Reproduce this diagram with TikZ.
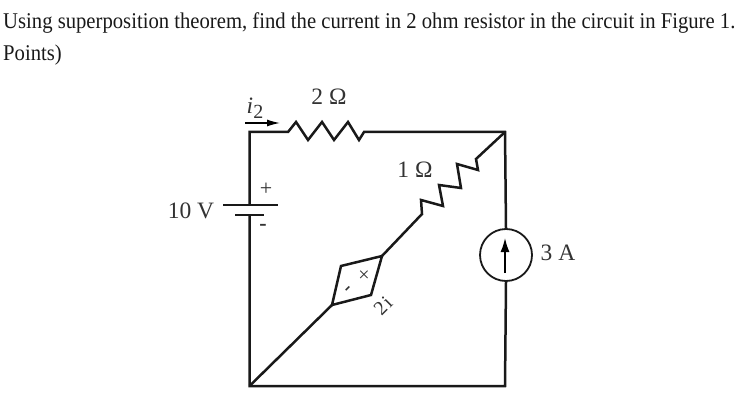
\documentclass[tikz,border=0pt]{standalone}
\usepackage{fontspec}
\usetikzlibrary{arrows.meta}
\setmainfont{Liberation Serif}
\begin{document}
\begin{tikzpicture}[x=1pt,y=-1pt,
  wire/.style={line width=2.5pt,black!90,line join=miter},
  thin wire/.style={line width=1.8pt,black!90},
  lab/.style={inner sep=0pt,text=black!80,font=\fontsize{23.5}{26}\selectfont},
  para/.style={inner sep=0pt,anchor=base west,text=black!90,font=\fontsize{22.5}{26}\selectfont}]
\useasboundingbox (0,0) rectangle (746,406);
\node[para] (t1) at (3,29) {\scalebox{0.919}[1]{Using superposition theorem, find the current in 2 ohm resistor in the circuit in Figure 1.}};
\node[para] (t2) at (3,61) {\scalebox{0.919}[1]{Points)}};
% junctions
\coordinate (tl) at (249.5,132);
\coordinate (tr) at (505,132);
\coordinate (br) at (505,386);
\coordinate (bl) at (249.5,386);
\coordinate (r2a) at (288,132);
\coordinate (r2b) at (364,132);
\coordinate (batp) at (249.5,205);
\coordinate (batn) at (249.5,215);
\coordinate (d1) at (332,305);
\coordinate (d2) at (341,266);
\coordinate (d3) at (382,256);
\coordinate (d4) at (371,295);
\coordinate (r1a) at (422,214);
\coordinate (r1b) at (476,159);
\node[circle,draw,thin wire,minimum size=52pt,inner sep=0pt] (src) at (506,255) {};
% wires
\draw[wire] (batp) -- (tl) -- (r2a) -- (296,122) -- (308,140) -- (322,122) -- (334,140) -- (348,122) -- (359,140) -- (r2b) -- (tr) -- (src.north);
\draw[wire] (src.south) -- (br) -- (bl) -- (batn);
\draw[wire] (223,205) -- (278,205);
\draw[wire] (235,215) -- (264,215);
\draw[wire] (bl) -- (d1);
\draw[wire] (d1) -- (d2) -- (d3) -- (d4) -- cycle;
\draw[wire] (d3) -- (r1a) -- (421,200) -- (443,206) -- (439,185) -- (461,188) -- (457,164) -- (478,170) -- (r1b) -- (tr);
% arrows
\coordinate (sa) at (505,273);
\coordinate (sb) at (505,238);
\draw[line width=1.5pt,-{Latex[length=14pt,width=9pt]}] (sa) -- (sb);
\coordinate (ia) at (245,123);
\coordinate (ib) at (280,123);
\draw[line width=1.3pt,-{Latex[length=13pt,width=7pt]}] (ia) -- (ib);
% labels
\node[lab] (l2) at (329,97) {2 Ω};
\node[lab] (l1) at (415,170) {1 Ω};
\node[lab] (l3) at (558,253) {3 A};
\node[lab] (l10) at (191,211) {10 V};
\node[lab] (li) at (255,108) {\textit{i}\raisebox{-5pt}{\fontsize{20}{22}\selectfont 2}};
\node[lab,font=\fontsize{22}{24}\selectfont] (lp) at (266,189) {+};
\node[lab,font=\bfseries\fontsize{22}{24}\selectfont] (lm) at (263,227) {-};
\node[lab,font=\fontsize{20}{22}\selectfont] (lx) at (364,276) {×};
\node[lab,font=\bfseries\fontsize{20}{22}\selectfont,rotate=45] (lmd) at (349,290) {-};
\node[lab,font=\fontsize{20}{22}\selectfont,rotate=45] (l2i) at (383,306) {2\kern1.5pt i};
\end{tikzpicture}
\end{document}
